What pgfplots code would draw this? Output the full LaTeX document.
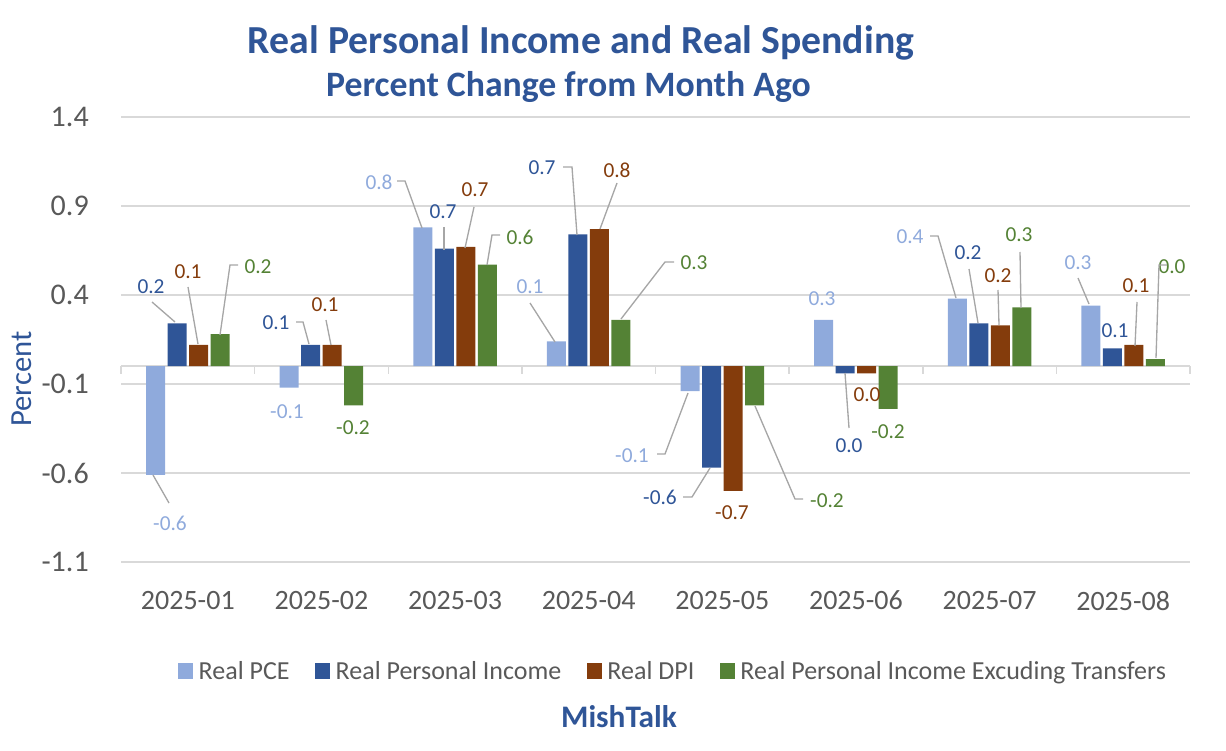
\documentclass[border=0pt]{standalone}
\usepackage{fontspec}
\setmainfont{Carlito}
\usepackage{pgfplots}
\usepackage{pgfplotstable}
\pgfplotsset{compat=1.18}

\definecolor{pce}{HTML}{8FAADC}
\definecolor{inc}{HTML}{2F5597}
\definecolor{dpi}{HTML}{843C0C}
\definecolor{exc}{HTML}{548235}
\definecolor{txt}{HTML}{595959}
\definecolor{gridc}{HTML}{D9D9D9}
\definecolor{lead}{HTML}{A6A6A6}

% month index, value (%), printed label, label centre (x, y in px of the 1226x750 canvas)
\pgfplotstableread{
x y lab lx ly
0 -0.61 -0.6 170 523
1 -0.12 -0.1 287 412
2 0.78 0.8 379 182
3 0.14 0.1 530 287
4 -0.14 -0.1 632 456
5 0.26 0.3 822 299
6 0.38 0.4 910 237
7 0.34 0.3 1078 263
}\pcetab
\pgfplotstableread{
x y lab lx ly
0 0.24 0.2 151 287
1 0.12 0.1 276 323
2 0.66 0.7 443 212
3 0.74 0.7 542 168
4 -0.57 -0.6 660 497
5 -0.04 0.0 849 446
6 0.24 0.2 968 253
7 0.10 0.1 1115 331
}\inctab
\pgfplotstableread{
x y lab lx ly
0 0.12 0.1 188 272
1 0.12 0.1 325 305
2 0.67 0.7 475 190
3 0.77 0.8 617 170
4 -0.70 -0.7 732 513
5 -0.04 0.0 867 395
6 0.23 0.2 998 276
7 0.12 0.1 1136 286
}\dpitab
\pgfplotstableread{
x y lab lx ly
0 0.18 0.2 258 267
1 -0.22 -0.2 353 428
2 0.57 0.6 520 237
3 0.26 0.3 694 263
4 -0.22 -0.2 827 501
5 -0.24 -0.2 888 432
6 0.33 0.3 1019 235
7 0.04 0.0 1172 267
}\exctab

\newcommand\lblfont{\fontsize{16pt}{19pt}\selectfont}

\pgfplotsset{
  sq legend/.style={legend image code/.code={\fill[##1] (0pt,-5.8pt) rectangle (11.6pt,5.8pt);}},
  bars/.style 2 args={ybar, bar width=14.25pt, bar shift=#2, fill=#1, draw=none, sq legend},
  % value labels, placed at their own spot beside the bars
  labels/.style={forget plot, draw=none, mark=none, nodes near coords,
    point meta=explicit symbolic,
    every node near coord/.style={anchor=center, inner sep=0pt, font=\lblfont, text=#1}},
}
\newcommand\labelplot[2]{%
  \addplot[labels=#1] table[x expr=(\thisrow{lx}-187.8)/133.625,
    y expr=(366.2-\thisrow{ly})/178, meta=lab]{#2};}

\begin{document}
\begin{tikzpicture}
\begin{scope}[x=0.75pt,y=-0.75pt,yshift=562.5pt]
  \path[use as bounding box] (0,0) rectangle (1226,750);
\end{scope}
\begin{axis}[
  at={(90.75pt,141pt)}, anchor=south west,
  scale only axis, width=801.75pt, height=333.75pt,
  xmin=-0.5, xmax=7.5, ymin=-1.1, ymax=1.4,
  axis line style={draw=none},
  major tick length=0pt,
  xtick={0,...,7},
  xticklabels={2025-01,2025-02,2025-03,2025-04,2025-05,2025-06,2025-07,2025-08},
  ytick={-1.1,-0.6,-0.1,0.4,0.9,1.4},
  yticklabels={-1.1,-0.6,-0.1,0.4,0.9,1.4},
  ymajorgrids, grid style={gridc, line width=1.1pt},
  extra y ticks={0}, extra y tick labels={},
  extra y tick style={grid style={gridc, line width=1.1pt}},
  xticklabel style={anchor=north, inner sep=0pt, yshift=-21.5pt,
    font=\fontsize{21pt}{25pt}\selectfont, text=txt},
  yticklabel style={anchor=east, inner sep=0pt, xshift=-24pt,
    font=\fontsize{22.5pt}{27pt}\selectfont, text=txt},
  ylabel={Percent},
  every axis y label/.style={at={(axis description cs:-0.0926,0.411)}, rotate=90,
    anchor=center, font=\fontsize{23pt}{27pt}\selectfont, text=inc},
  legend style={at={(axis description cs:0.516,-0.245)}, anchor=center,
    draw=none, fill=none, inner sep=0pt, font=\fontsize{19.5pt}{23pt}\selectfont,
    text=txt, legend columns=-1, nodes={inner sep=1pt},
    /tikz/every odd column/.append style={column sep=3pt},
    /tikz/every even column/.append style={column sep=18pt}},
  legend cell align=left,
  clip=false,
]
\addplot[bars={pce}{-24.1875pt}] table[x=x, y=y]{\pcetab};
\addlegendentry{Real PCE}
\addplot[bars={inc}{-8.0625pt}] table[x=x, y=y]{\inctab};
\addlegendentry{Real Personal Income}
\addplot[bars={dpi}{8.0625pt}] table[x=x, y=y]{\dpitab};
\addlegendentry{Real DPI}
\addplot[bars={exc}{24.1875pt}] table[x=x, y=y]{\exctab};
\addlegendentry{Real Personal Income Excuding Transfers}
\labelplot{pce}{\pcetab}
\labelplot{inc}{\inctab}
\labelplot{dpi}{\dpitab}
\labelplot{exc}{\exctab}
\end{axis}

\begin{scope}[x=0.75pt,y=-0.75pt,yshift=562.5pt]
  % titles and source
  \node[anchor=base, font=\bfseries\fontsize{29.8pt}{34pt}\selectfont, text=inc]
    at (581,54) {Real Personal Income and Real Spending};
  \node[anchor=base, font=\bfseries\fontsize{26.8pt}{31pt}\selectfont, text=inc]
    at (568.5,97) {Percent Change from Month Ago};
  \node[anchor=base, font=\bfseries\fontsize{23.5pt}{27pt}\selectfont, text=inc]
    at (619,727) {MishTalk};
  % category separators on the zero line
  \foreach \k in {0,...,8}
    \draw[gridc, line width=1.1pt] ({121+133.625*\k},366.2) -- ++(0,8);
  % leader lines from labels to bars
  \begin{scope}[lead, line width=1pt]
    \draw (153,475) -- (169,503);
    \draw (152,302) -- (175,322);
    \draw (188,287) -- (198,344);
    \draw (238,265) -- (230,265) -- (220,335);
    \draw (296,322) -- (303,322) -- (309,344);
    \draw (326,320) -- (331,345);
    \draw (397,181) -- (405,181) -- (422,228);
    \draw (444,227) -- (444,250);
    \draw (474,207) -- (465,248);
    \draw (500,235) -- (492,235) -- (487,265);
    \draw (530,303) -- (555,342);
    \draw (563,167) -- (572,167) -- (577,235);
    \draw (617,183) -- (600,229);
    \draw (674,262) -- (665,262) -- (621,319);
    \draw (657,454) -- (665,454) -- (688,393);
    \draw (683,497) -- (692,497) -- (710,468);
    \draw (803,499) -- (795,499) -- (755,406);
    \draw (849,428) -- (845,373);
    \draw (930,236) -- (938,236) -- (956,298);
    \draw (969,269) -- (978,323);
    \draw (998,290) -- (999,325);
    \draw (1020,252) -- (1021,308);
    \draw (1078,278) -- (1089,304);
    \draw (1137,302) -- (1135,346);
    \draw (1167,265) -- (1159,265) -- (1156,358);
  \end{scope}
\end{scope}
\end{tikzpicture}
\end{document}
